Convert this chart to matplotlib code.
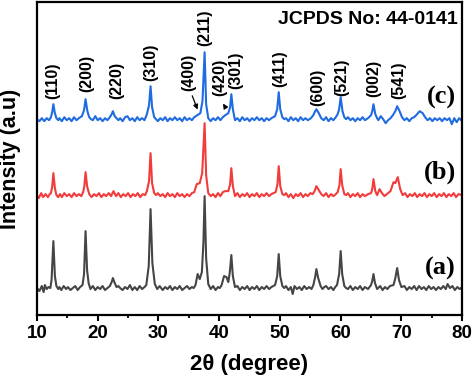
import matplotlib
matplotlib.use("Agg")
import matplotlib.pyplot as plt
import numpy as np

BLUE = "#1F6BE0"
RED = "#F23B3B"
GRAY = "#454545"

plt.rcParams.update({
    "font.family": ["Liberation Sans", "DejaVu Sans"],
    "font.weight": "bold",
})

# digitised XRD patterns: (2theta, intensity above own baseline, a.u.)
pattern_a = [
    (10.0, 0), (10.4, -3), (10.8, 2), (11.1, -4), (11.3, 3), (11.6, -1), (11.9, 1), (12.2, 0), (12.4, 8),
    (12.7, 47), (12.95, 12), (13.2, 2), (13.5, -1), (13.7, 1), (14.0, -2), (14.4, 2), (14.8, -1), (15.1, 1),
    (15.5, -2), (15.9, 0), (16.3, 2), (16.7, -2), (17.1, 1), (17.5, 3), (17.75, 14), (18.0, 57), (18.25, 18),
    (18.5, 5), (18.8, -1), (19.2, 2), (19.6, -2), (20.0, 1), (20.4, -1), (20.8, 2), (21.2, -2), (21.6, 0),
    (22.0, 2), (22.3, 6), (22.5, 10), (22.8, 5), (23.1, 1), (23.4, 2), (23.7, 0), (24.1, -2), (24.5, 1),
    (24.9, -1), (25.3, 3), (25.7, -2), (26.1, 1), (26.5, -2), (26.9, 2), (27.3, -1), (27.7, 1), (28.0, 3),
    (28.4, 22), (28.7, 79), (29.0, 25), (29.4, 4), (29.8, -1), (30.2, 2), (30.7, -2), (31.1, 1), (31.5, -1),
    (31.9, 2), (32.3, -2), (32.7, 1), (33.1, -1), (33.5, 2), (33.9, -2), (34.3, 0), (34.7, 2), (35.1, -1),
    (35.5, 1), (35.8, 0), (36.1, 3), (36.45, 14), (36.8, 9), (37.15, 16), (37.4, 45), (37.6, 92), (37.85, 30),
    (38.2, 4), (38.6, -1), (39.0, 2), (39.4, -2), (39.8, 1), (40.1, 0), (40.4, 3), (40.8, 12), (41.2, 11),
    (41.5, 6), (41.75, 16), (42.0, 33), (42.25, 12), (42.6, 1), (43.0, 2), (43.4, -2), (43.8, 1), (44.2, -1),
    (44.6, 2), (45.0, -2), (45.4, 1), (45.8, -1), (46.2, 2), (46.6, -2), (47.0, 1), (47.4, -1), (47.8, 2),
    (48.2, -1), (48.6, 1), (49.2, 3), (49.55, 12), (49.8, 34), (50.05, 12), (50.4, 2), (50.7, 0), (51.0, 2),
    (51.4, -2), (51.8, 1), (52.1, -6), (52.4, 2), (52.8, -1), (53.2, 1), (53.6, -2), (54.0, 2), (54.4, -1),
    (54.8, 1), (55.2, -1), (55.5, 3), (55.8, 11), (56.0, 19), (56.3, 10), (56.7, 2), (57.0, -1), (57.3, 1),
    (57.6, 2), (58.0, -1), (58.4, 1), (58.8, -2), (59.1, 1), (59.4, 3), (59.75, 14), (60.0, 37), (60.25, 14),
    (60.6, 2), (60.9, 0), (61.2, -1), (61.6, 2), (62.0, -2), (62.4, 1), (62.8, -1), (63.2, 2), (63.6, -2),
    (64.0, 1), (64.5, -1), (65.0, 3), (65.2, 7), (65.4, 14), (65.65, 5), (66.0, -1), (66.5, 2), (66.9, -2),
    (67.3, 1), (67.7, -1), (68.1, 2), (68.7, 3), (69.0, 10), (69.3, 20), (69.6, 8), (70.0, 1), (70.5, 2),
    (70.9, -2), (71.3, 1), (71.7, -1), (72.1, 2), (72.5, -2), (72.9, 2), (73.3, -1), (73.7, 1), (74.1, -2),
    (74.5, 2), (74.9, -1), (75.3, 1), (75.7, -2), (76.1, 1), (76.5, -1), (76.9, 2), (77.3, -1), (77.6, 4),
    (78.0, 0), (78.4, 2), (78.8, -2), (79.2, 1), (79.6, -1), (80.0, 1),
]

pattern_b = [
    (10.0, 0), (10.3, -3), (10.7, 2), (11.0, -2), (11.4, 1), (11.8, -2), (12.1, 1), (12.3, 2), (12.5, 8),
    (12.7, 22), (12.95, 7), (13.2, 0), (13.5, -2), (13.8, 1), (14.1, -2), (14.5, 2), (14.9, -1), (15.3, 1),
    (15.7, -2), (16.1, 2), (16.5, -1), (16.9, 1), (17.3, -1), (17.6, 3), (17.8, 9), (18.0, 23), (18.25, 9),
    (18.6, 1), (19.0, -2), (19.4, 1), (19.8, -1), (20.2, 2), (20.6, -2), (21.0, 1), (21.4, -1), (21.8, 2),
    (22.2, -1), (22.6, 4), (23.0, -1), (23.4, 2), (23.8, -2), (24.2, 1), (24.6, -1), (25.0, 2), (25.4, -2),
    (25.8, 1), (26.2, -1), (26.6, 2), (27.0, -2), (27.4, 1), (27.8, 0), (28.1, 4), (28.45, 14), (28.7, 42),
    (28.95, 12), (29.3, 2), (29.6, 0), (29.9, 2), (30.3, -1), (30.7, 1), (31.1, -2), (31.5, 2), (31.9, -1),
    (32.3, 1), (32.7, -2), (33.1, 2), (33.5, -1), (33.9, 1), (34.3, -2), (34.7, 1), (35.1, -1), (35.5, 2),
    (35.9, 3), (36.3, 11), (36.8, 12), (37.2, 22), (37.6, 72), (37.85, 20), (38.2, 2), (38.6, -1), (39.0, 1),
    (39.4, -2), (39.8, 2), (40.2, -1), (40.6, 3), (41.0, 4), (41.5, 4), (41.8, 11), (42.0, 27), (42.25, 9),
    (42.6, -1), (43.0, 2), (43.4, -2), (43.8, 1), (44.2, -1), (44.6, 2), (45.0, -2), (45.4, 1), (45.8, -1),
    (46.2, 2), (46.6, -2), (47.0, 1), (47.4, -1), (47.8, 2), (48.2, -1), (48.6, 1), (49.3, 3), (49.6, 11),
    (49.8, 29), (50.05, 9), (50.4, 1), (50.7, 0), (51.0, 2), (51.4, -2), (51.8, 1), (52.2, -3), (52.6, 1),
    (53.0, -1), (53.4, 2), (53.8, -2), (54.2, 1), (54.6, -1), (55.0, 2), (55.4, 1), (55.7, 4), (56.0, 9),
    (56.4, 5), (56.8, 1), (57.2, -1), (57.6, 2), (58.0, -2), (58.4, 1), (58.8, -1), (59.2, 1), (59.5, 3),
    (59.8, 10), (60.0, 26), (60.25, 10), (60.6, 1), (60.9, 0), (61.2, 2), (61.6, -2), (62.0, 1), (62.4, -1),
    (62.8, 2), (63.2, -2), (63.6, 1), (64.0, -1), (64.5, 1), (65.0, 2), (65.2, 6), (65.4, 16), (65.7, 4),
    (66.0, 0), (66.4, 6), (66.8, 2), (67.2, -1), (67.6, 1), (68.2, 4), (68.7, 13), (69.0, 12), (69.4, 18),
    (69.8, 6), (70.2, 0), (70.6, 2), (71.0, -2), (71.4, 1), (71.8, -1), (72.2, 2), (72.6, -2), (73.0, 1),
    (73.4, -1), (73.8, 2), (74.2, -2), (74.6, 1), (75.0, -1), (75.4, 2), (75.8, -2), (76.2, 1), (76.6, -1),
    (77.0, 2), (77.4, -2), (77.8, 1), (78.2, -1), (78.6, 2), (79.0, -2), (79.4, 1), (80.0, 0),
]

pattern_c = [
    (10.0, 0), (10.4, -2), (10.8, 1), (11.2, -2), (11.6, 1), (12.0, -1), (12.3, 2), (12.5, 7), (12.7, 15),
    (12.95, 6), (13.2, 1), (13.5, -1), (13.7, 1), (14.1, -2), (14.5, 2), (14.9, -1), (15.3, 1), (15.7, -2),
    (16.1, 2), (16.5, -1), (16.9, 1), (17.4, 3), (17.75, 9), (18.0, 20), (18.3, 8), (18.6, 2), (18.9, 0),
    (19.2, -1), (19.6, 3), (20.0, -1), (20.4, 1), (20.8, -2), (21.2, 1), (21.6, -1), (22.0, 2), (22.3, 5),
    (22.5, 8), (22.8, 3), (23.1, 1), (23.4, -1), (23.7, 1), (24.1, -2), (24.5, 2), (24.9, 3), (25.3, -1),
    (25.7, 1), (26.1, -2), (26.5, 2), (26.9, -1), (27.3, 1), (27.7, -1), (28.1, 5), (28.45, 14), (28.7, 33),
    (28.95, 12), (29.3, 2), (29.6, 0), (29.9, -2), (30.3, 1), (30.7, -1), (31.1, 2), (31.5, -2), (31.9, 1),
    (32.3, -1), (32.7, 2), (33.1, -1), (33.5, 1), (33.9, -2), (34.3, 2), (34.7, -1), (35.1, 1), (35.5, -1),
    (35.9, 2), (36.4, 4), (36.9, 6), (37.25, 18), (37.6, 67), (37.85, 15), (38.2, 1), (38.6, -2), (39.0, 1),
    (39.4, -1), (39.8, 2), (40.2, -1), (40.6, 2), (41.0, 4), (41.5, 6), (41.8, 12), (42.0, 25), (42.25, 10),
    (42.6, -1), (43.0, 1), (43.4, -2), (43.8, 2), (44.2, -1), (44.6, 1), (45.0, -2), (45.4, 1), (45.8, -1),
    (46.2, 2), (46.6, -1), (47.0, 1), (47.4, -2), (47.8, 1), (48.2, -1), (48.6, 1), (49.2, 3), (49.55, 10),
    (49.8, 27), (50.05, 10), (50.4, 2), (50.7, 0), (51.0, 1), (51.4, -2), (51.8, 2), (52.2, -1), (52.6, 1),
    (53.0, -2), (53.4, 2), (53.8, -1), (54.2, 1), (54.6, -1), (55.1, 1), (55.5, 4), (55.8, 8), (56.0, 10),
    (56.4, 6), (56.8, 1), (57.2, -1), (57.6, 2), (58.0, -2), (58.4, 1), (58.8, -1), (59.2, 2), (59.5, 5),
    (59.75, 10), (60.0, 22), (60.3, 8), (60.6, 2), (60.9, 0), (61.2, 2), (61.6, -1), (62.0, 1), (62.4, -2),
    (62.8, 1), (63.2, -1), (63.6, 2), (64.0, -1), (64.5, 1), (65.0, 4), (65.2, 8), (65.4, 15), (65.7, 5),
    (66.0, 1), (66.2, -1), (66.6, 3), (67.0, 0), (67.4, -4), (67.8, -1), (68.2, 1), (68.6, 4), (69.0, 8),
    (69.3, 13), (69.7, 8), (70.1, 2), (70.5, -1), (70.9, 1), (71.3, -2), (71.7, 1), (72.1, 2), (72.6, 5),
    (73.0, 8), (73.5, 6), (73.9, 2), (74.3, -1), (74.7, 1), (75.1, -2), (75.5, 1), (75.9, -1), (76.3, 1),
    (76.7, -2), (77.1, 1), (77.5, -1), (77.9, 1), (78.3, -5), (78.7, 1), (79.1, -3), (79.5, 1), (80.0, -2),
]

hkl_labels = ["(110)", "(200)", "(220)", "(310)", "(400)", "(211)", "(420)",
              "(301)", "(411)", "(600)", "(521)", "(002)", "(541)"]
hkl_2theta = [12.6, 18.2, 23.2, 28.8, 35.0, 37.7, 40.1, 42.8, 49.9, 56.3, 60.2, 65.5, 69.5]
hkl_ybot = [216, 223, 216, 234, 224, 269, 219, 226, 228, 209, 219, 218, 216]

# vertical stacking offsets of the three patterns
OFFSETS = {"a": 27, "b": 120, "c": 196}

fig = plt.figure(figsize=(4.74, 3.80), dpi=100)
ax = fig.add_axes([0.078, 0.171, 0.897, 0.823])

for pts, key, col in ((pattern_a, "a", GRAY), (pattern_b, "b", RED), (pattern_c, "c", BLUE)):
    tt, inten = np.array(pts, float).T
    ax.plot(tt, inten + OFFSETS[key], color=col, lw=1.5)

for lab, x, y in zip(hkl_labels, hkl_2theta, hkl_ybot):
    ax.text(x, y, lab, rotation=90, ha="center", va="bottom",
            fontsize=11.5, fontweight="bold", color="black")

ax.annotate("", xy=(36.6, 203), xytext=(35.4, 222),
            arrowprops=dict(arrowstyle="-|>", color="black", lw=0.9, mutation_scale=7))
ax.annotate("", xy=(40.4, 214), xytext=(41.2, 206),
            arrowprops=dict(arrowstyle="-|>", color="black", lw=0.9, mutation_scale=7))

for lab, y in (("(a)", 47), ("(b)", 143), ("(c)", 218)):
    ax.text(79.0, y, lab, ha="right", va="center", fontsize=19,
            fontweight="bold", family=["Liberation Serif", "DejaVu Serif"])

ax.text(79.2, 296, "JCPDS No: 44-0141", ha="right", va="center",
        fontsize=14, fontweight="bold")

ax.set_xlim(10, 80)
ax.set_ylim(0, 313)
ax.set_xticks(np.arange(10, 81, 10))
ax.set_xticks(np.arange(15, 80, 10), minor=True)
ax.set_yticks([])
ax.tick_params(axis="x", which="major", direction="out", length=4, width=1.5,
               labelsize=13.5, pad=3)
ax.tick_params(axis="x", which="minor", direction="out", length=2.5, width=1.3)
for lab in ax.get_xticklabels():
    lab.set_fontweight("bold")
for s in ax.spines.values():
    s.set_linewidth(1.6)

ax.set_xlabel("2\u03b8 (degree)", fontsize=16, fontweight="bold", labelpad=9)
ax.set_ylabel("Intensity (a.u)", fontsize=15.5, fontweight="bold")
ax.yaxis.set_label_coords(-0.037, 0.5)

fig.savefig("out.png", dpi=100)
